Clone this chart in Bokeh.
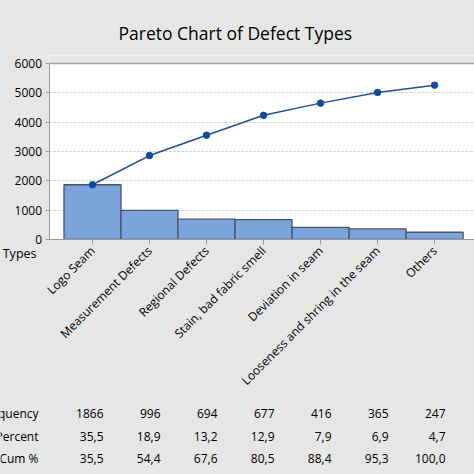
from bokeh.plotting import figure
from bokeh.layouts import column, row
from bokeh.models import Range1d, Span, BoxAnnotation, ColumnDataSource, FixedTicker
from bokeh.core.properties import value
from bokeh.embed import file_html
from bokeh.resources import INLINE

categories = ["Logo Seam", "Measurement Defects", "Regional Defects",
              "Stain, bad fabric smell", "Deviation in seam",
              "Looseness and shring in the seam", "Others"]
frequency = [1866, 996, 694, 677, 416, 365, 247]
percent = [35.5, 18.9, 13.2, 12.9, 7.9, 6.9, 4.7]
cum_percent = [35.5, 54.4, 67.6, 80.5, 88.4, 95.3, 100.0]
row_names = ["Frequency", "Percent", "Cum %"]
x_axis_name = "Defect Types"
y_ticks = [0, 1000, 2000, 3000, 4000, 5000, 6000]

FONT = "Open Sans"
BG = "#e6e6e6"

xs = list(range(1, len(categories) + 1))
cum_counts = []
run = 0
for f in frequency:
    run += f
    cum_counts.append(run)

MAIN_H = 400
LEFT_W = 42
TOP = 55          # frame top (a little above the 6000 line so its label fits)

def ylab(py):
    return (239 - py) / 176.0 * 6000

p = figure(frame_width=425, frame_height=239 - TOP,
           min_border_left=49 - LEFT_W, min_border_right=0,
           min_border_top=TOP, min_border_bottom=MAIN_H - 239,
           x_range=Range1d(0.246, 7.70), y_range=Range1d(0, ylab(TOP)),
           output_backend="svg", toolbar_location=None,
           background_fill_color="white", border_fill_color=BG,
           title="Pareto Chart of Defect Types")
p.outline_line_color = None
p.title.align = "left"
p.title.offset = 69
p.title.standoff = 21
p.title.text_font = FONT
p.title.text_font_size = "17.5px"
p.title.text_font_style = "normal"
p.title.text_color = "black"

src = ColumnDataSource(dict(x=xs, freq=frequency, cum=cum_counts))

p.vbar(x="x", top="freq", width=1.0, bottom=0, source=src,
       fill_color="#7ba4dc", line_color="#4a5563", line_width=1.3)
p.line(x="x", y="cum", source=src, line_color="#1f4f92", line_width=1.5)
p.scatter(x="x", y="cum", source=src, size=6.5, fill_color="#0d4c9c", line_color="#0d4c9c")

p.add_layout(BoxAnnotation(bottom=6000, fill_color=BG, fill_alpha=1.0, line_color=None))
p.add_layout(Span(location=6000, dimension="width", line_color="#a8a8a8", line_width=1.5))

p.xaxis.ticker = FixedTicker(ticks=xs)
p.xaxis.major_label_overrides = {i: c for i, c in zip(xs, categories)}
p.xaxis.major_label_orientation = 0.785398
p.xaxis.major_label_text_font = FONT
p.xaxis.major_label_text_font_size = "12px"
p.xaxis.major_label_text_color = "black"
p.xaxis.major_tick_out = 5
p.xaxis.major_tick_in = 0
p.xaxis.minor_tick_line_color = None
p.xaxis.major_tick_line_color = "#9a9a9a"
p.xaxis.axis_line_color = "#9a9a9a"
p.xaxis.major_label_standoff = 4

p.yaxis.ticker = FixedTicker(ticks=y_ticks)
p.yaxis.bounds = (0, 6000)
p.yaxis.major_label_overrides = {v: " " for v in y_ticks}
p.yaxis.major_label_text_font_size = "1px"
p.yaxis.major_label_standoff = 0
p.yaxis.major_tick_out = 4
p.yaxis.major_tick_in = 0
p.yaxis.minor_tick_line_color = None
p.yaxis.major_tick_line_color = "#9a9a9a"
p.yaxis.axis_line_color = "#9a9a9a"

p.xgrid.grid_line_color = None
p.ygrid.grid_line_color = "#c4c4c4"
p.ygrid.grid_line_dash = "2 2"

# left column: y tick labels and axis name, on the same vertical scale
yl = figure(frame_width=LEFT_W, frame_height=MAIN_H - TOP,
            min_border_left=0, min_border_right=0,
            min_border_top=TOP, min_border_bottom=0,
            x_range=Range1d(0, LEFT_W), y_range=Range1d(ylab(MAIN_H), ylab(TOP)),
            x_axis_location=None, y_axis_location=None,
            output_backend="svg", toolbar_location=None,
            background_fill_color=BG, border_fill_color=BG)
yl.outline_line_color = None
yl.grid.visible = False
yl.text(x=[LEFT_W - 0.5] * len(y_ticks), y=y_ticks, text=[str(v) for v in y_ticks],
        text_font=value(FONT), text_font_size="12px", text_align="right",
        text_baseline="middle", text_color="black")
yl.text(x=[36], y=[ylab(253)], text=[x_axis_name], text_font=value(FONT),
        text_font_size="12.5px", text_align="right", text_baseline="middle",
        text_color="black")

def xdata(px):
    return 1 + (px - 92) / 57.0

TAB_H = 474 - MAIN_H
t = figure(width=474, height=TAB_H, min_border=0,
           x_range=Range1d(xdata(0), xdata(474)), y_range=Range1d(TAB_H, 0),
           x_axis_location=None, y_axis_location=None,
           output_backend="svg", toolbar_location=None,
           background_fill_color=BG, border_fill_color=BG)
t.outline_line_color = None
t.grid.visible = False

row_vals = [[str(v) for v in frequency],
            [("%.1f" % v).replace(".", ",") for v in percent],
            [("%.1f" % v).replace(".", ",") for v in cum_percent]]
row_py = [413, 436, 458]
for name, vals, py in zip(row_names, row_vals, row_py):
    yy = py - MAIN_H
    t.text(x=[xdata(38)], y=[yy], text=[name], text_font=value(FONT),
           text_font_size="12px", text_align="right", text_baseline="middle",
           text_color="black")
    t.text(x=xs, y=[yy] * len(xs), text=vals, x_offset=11, text_font=value(FONT),
           text_font_size="12px", text_align="right", text_baseline="middle",
           text_color="black")

layout = column(row(yl, p, spacing=0), t, spacing=0,
                styles={"background-color": BG})
open("out.html", "w").write(file_html(layout, INLINE))
